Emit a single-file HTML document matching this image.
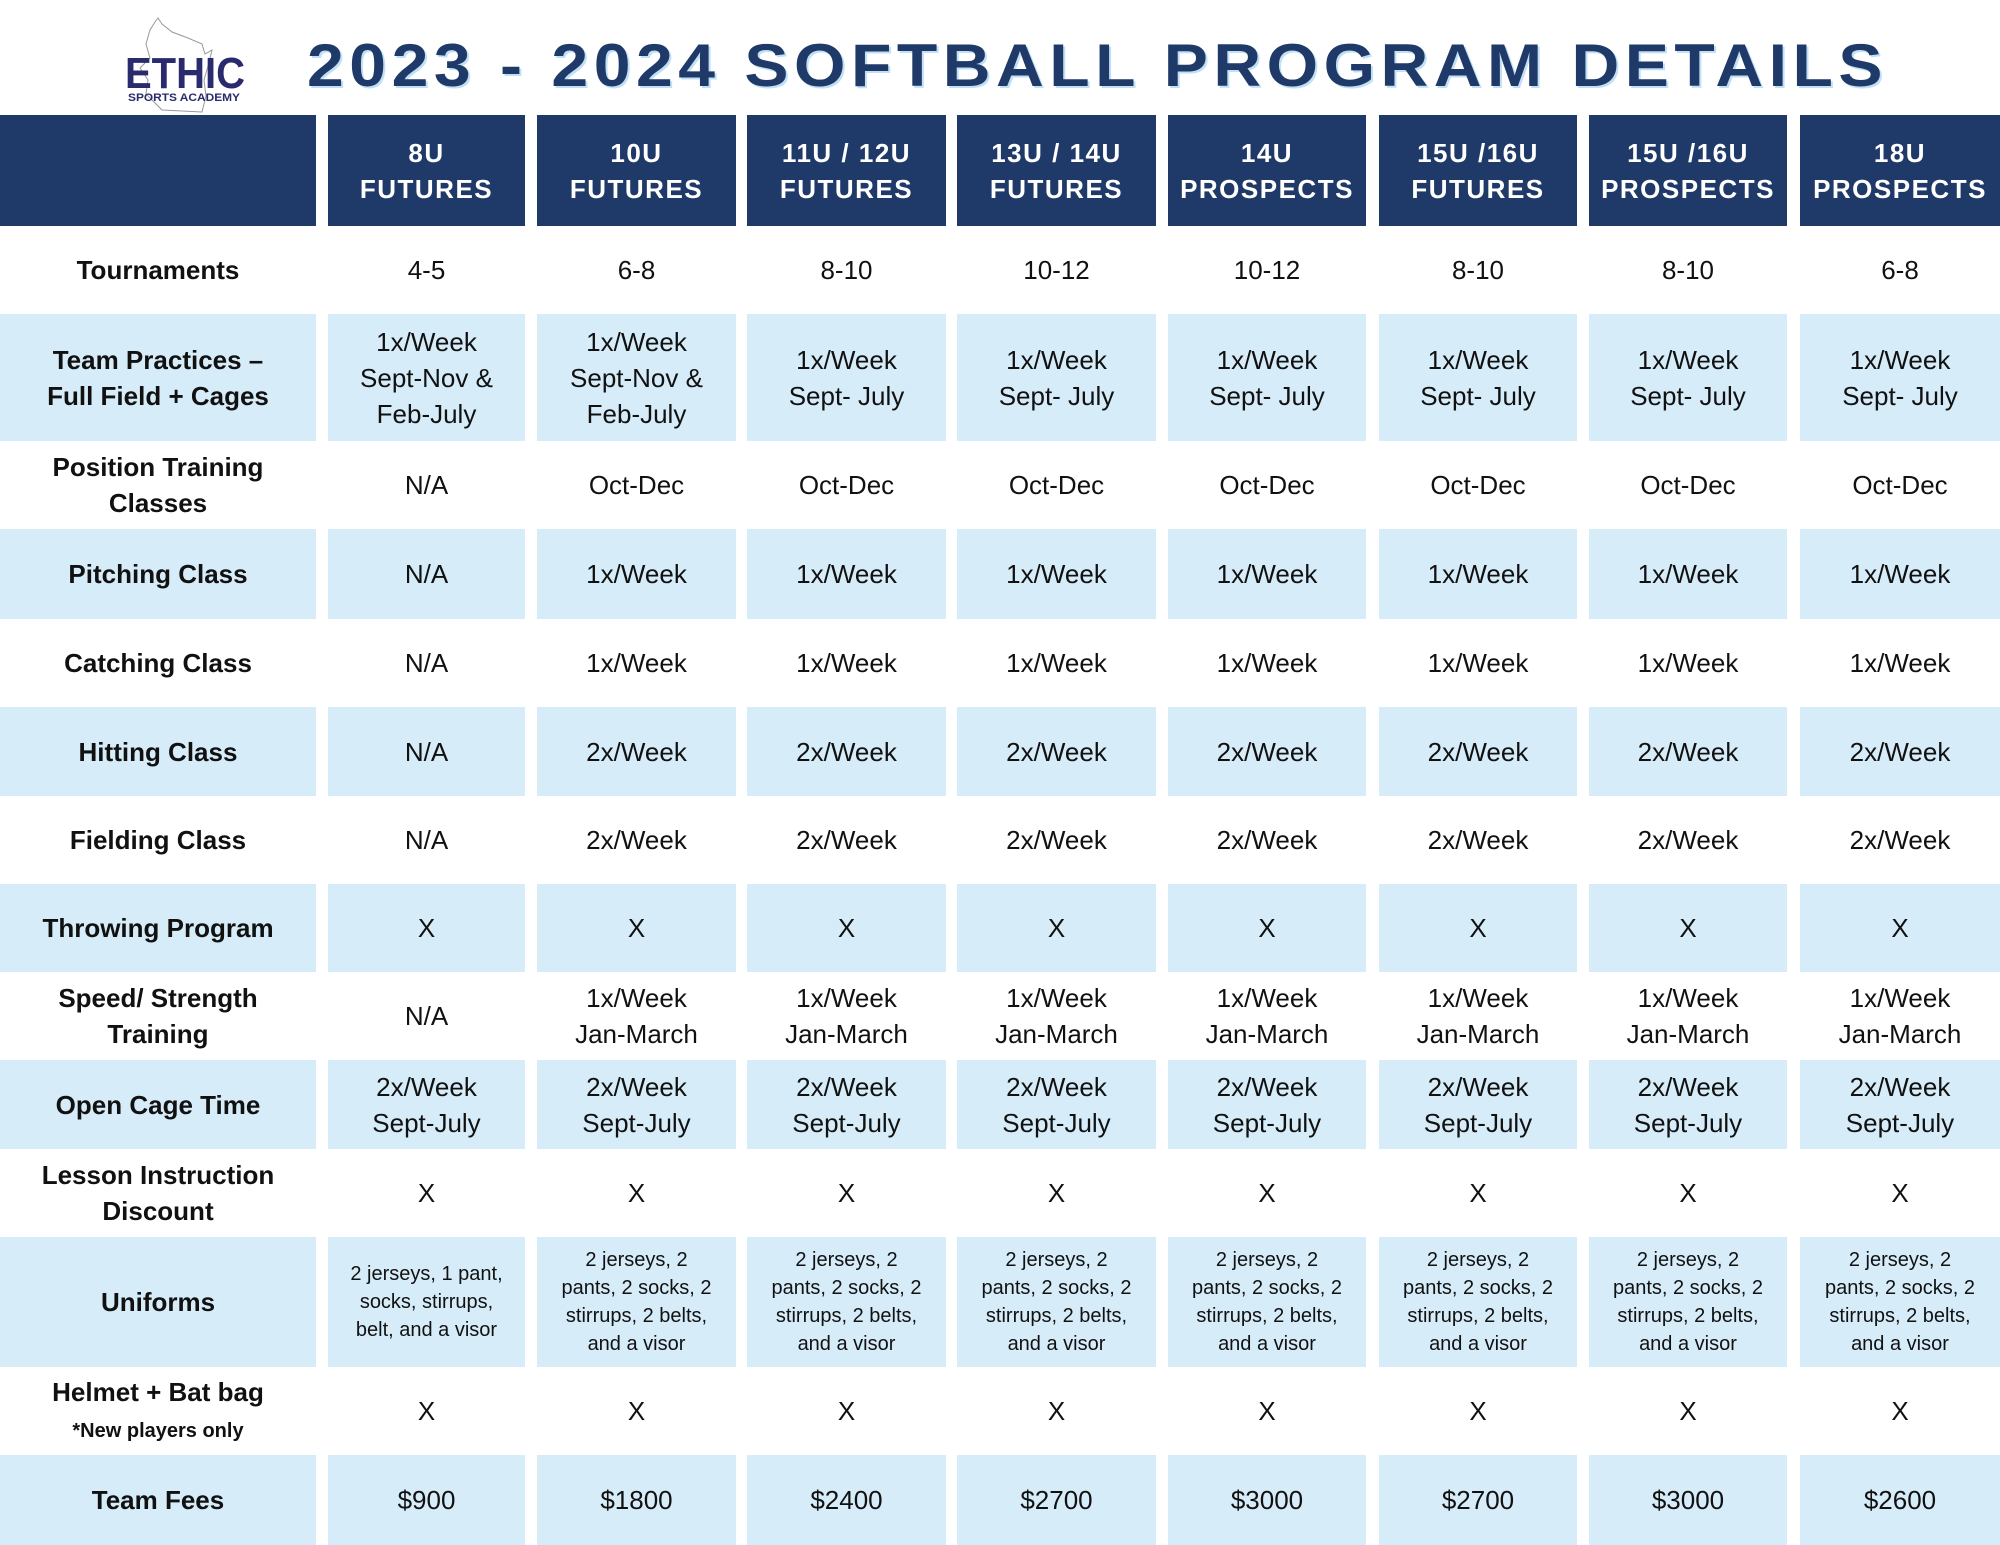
<!DOCTYPE html>
<html><head><meta charset="utf-8"><style>
html,body{margin:0;padding:0;background:#fff;}
#page{position:relative;width:2000px;height:1545px;overflow:hidden;background:#fff;font-family:"Liberation Sans",sans-serif;}
.cell{position:absolute;display:flex;align-items:center;justify-content:center;text-align:center;color:#111;font-size:26px;line-height:36px;box-sizing:border-box;}
.hdr{background:#1f3a68;color:#fff;font-weight:bold;letter-spacing:1.5px;font-size:26px;line-height:36px;}
.blue{background:#d6ecf9;}
.lbl{font-weight:bold;}
.small{font-size:20px;line-height:28px;}
.note{font-size:20px;}
</style></head><body>
<div id="page">
<svg style="position:absolute;left:110px;top:10px" width="150" height="105" viewBox="0 0 150 105">
<path d="M45 12 L48 8 L52 14 L62 22 L78 28 L92 34 L95 44 L102 40 L98 56 L94 70 L96 86 L92 102 L52 100 L44 92 L36 84 L38 70 L30 58 L40 48 L36 34 L40 20 Z" fill="none" stroke="#999" stroke-width="1"/>
<text x="15" y="78" font-family="Liberation Sans, sans-serif" font-weight="bold" font-size="44" fill="#2a2a6e" textLength="120" lengthAdjust="spacingAndGlyphs">ETHIC</text>
<text x="18" y="91" font-family="Liberation Sans, sans-serif" font-weight="bold" font-size="11" fill="#2a2a6e" textLength="112" lengthAdjust="spacingAndGlyphs">SPORTS ACADEMY</text>
</svg>
<svg style="position:absolute;left:300px;top:25px" width="1600" height="80">
<text x="9" y="63" font-family="Liberation Sans, sans-serif" font-weight="bold" font-size="60" letter-spacing="5" fill="#bfe0f5" textLength="1581" lengthAdjust="spacingAndGlyphs">2023 - 2024 SOFTBALL PROGRAM DETAILS</text>
<text x="7" y="61" font-family="Liberation Sans, sans-serif" font-weight="bold" font-size="60" letter-spacing="5" fill="#1f3a68" textLength="1581" lengthAdjust="spacingAndGlyphs">2023 - 2024 SOFTBALL PROGRAM DETAILS</text>
</svg>
</div>
<script>
const colHeaders=["8U<br>FUTURES","10U<br>FUTURES","11U / 12U<br>FUTURES","13U / 14U<br>FUTURES","14U<br>PROSPECTS","15U /16U<br>FUTURES","15U /16U<br>PROSPECTS","18U<br>PROSPECTS"];
const rowLabels=["Tournaments","Team Practices –<br>Full Field + Cages","Position Training<br>Classes","Pitching Class","Catching Class","Hitting Class","Fielding Class","Throwing Program","Speed/ Strength<br>Training","Open Cage Time","Lesson Instruction<br>Discount","Uniforms","Helmet + Bat bag<br><span class='note'>*New players only</span>","Team Fees"];
const U2="2 jerseys, 2<br>pants, 2 socks, 2<br>stirrups, 2 belts,<br>and a visor";
const P1="1x/Week<br>Sept-Nov &amp;<br>Feb-July", P2="1x/Week<br>Sept- July";
const S="1x/Week<br>Jan-March", C="2x/Week<br>Sept-July";
const values=[
["4-5","6-8","8-10","10-12","10-12","8-10","8-10","6-8"],
[P1,P1,P2,P2,P2,P2,P2,P2],
["N/A","Oct-Dec","Oct-Dec","Oct-Dec","Oct-Dec","Oct-Dec","Oct-Dec","Oct-Dec"],
["N/A","1x/Week","1x/Week","1x/Week","1x/Week","1x/Week","1x/Week","1x/Week"],
["N/A","1x/Week","1x/Week","1x/Week","1x/Week","1x/Week","1x/Week","1x/Week"],
["N/A","2x/Week","2x/Week","2x/Week","2x/Week","2x/Week","2x/Week","2x/Week"],
["N/A","2x/Week","2x/Week","2x/Week","2x/Week","2x/Week","2x/Week","2x/Week"],
["X","X","X","X","X","X","X","X"],
["N/A",S,S,S,S,S,S,S],
[C,C,C,C,C,C,C,C],
["X","X","X","X","X","X","X","X"],
["2 jerseys, 1 pant,<br>socks, stirrups,<br>belt, and a visor",U2,U2,U2,U2,U2,U2,U2],
["X","X","X","X","X","X","X","X"],
["$900","$1800","$2400","$2700","$3000","$2700","$3000","$2600"]];
const rowEdges=[115,226,314,441,529,619,707,796,884,972,1060,1149,1237,1367,1455,1545];
const colX=[0,328,537,747,957,1168,1379,1589,1800];
const colW=[316,197,199,199,199,198,198,198,200];
const g=document.getElementById('page');
function mk(x,y,w,h,html,cls){const d=document.createElement('div');d.className='cell '+cls;d.style.left=x+'px';d.style.top=y+'px';d.style.width=w+'px';d.style.height=h+'px';const inner=document.createElement('div');inner.innerHTML=html;d.appendChild(inner);g.appendChild(d);return d;}
let h0=mk(0,115,316,111,"","hdr");


colHeaders.forEach((t,i)=>{const d=mk(colX[i+1],115,colW[i+1],111,t,"hdr");

});
rowLabels.forEach((lab,r)=>{
 const y=rowEdges[r+1],h=rowEdges[r+2]-y,blue=r%2===1?" blue":"";
 const l=mk(0,y,316,h,lab,"lbl"+blue);
 
 
 values[r].forEach((v,c)=>{const d=mk(colX[c+1],y,colW[c+1],h,v,blue+(r===11?" small":""));
 
 });
});
</script>
</body></html>
